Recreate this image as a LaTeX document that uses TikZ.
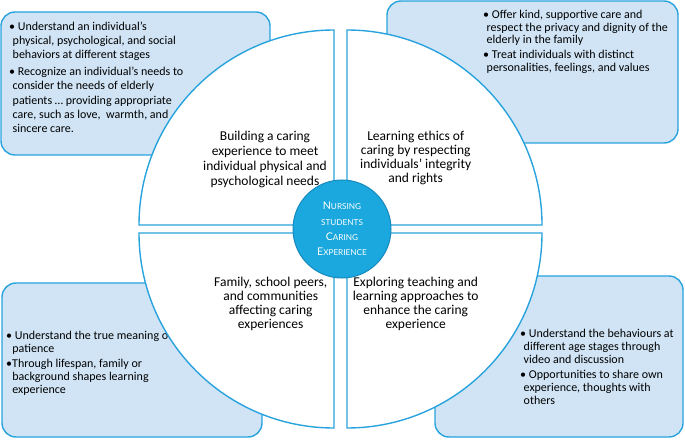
\documentclass[tikz,border=0pt]{standalone}
\usepackage{fontspec}
\setmainfont{Carlito}
\newfontfamily\hubfont{Lato}
\usetikzlibrary{positioning}

\definecolor{ringblue}{RGB}{41,163,221}
\definecolor{notefill}{RGB}{208,228,245}
\definecolor{hubfill}{RGB}{27,168,222}
\definecolor{hubdraw}{RGB}{22,138,190}

% fake small caps for the hub
\newcommand{\smcap}[2]{#1{\fontsize{8.2}{9}\selectfont #2}}
\newcommand{\cont}{\hspace*{3.5pt}}

\begin{document}
\begin{tikzpicture}[
  x=1pt, y=1pt,
  panel/.style={draw=ringblue, fill=notefill, line width=1.4pt, rounded corners=14pt},
  quarter/.style={draw=ringblue, fill=white, line width=1.4pt},
  note/.style={anchor=north west, inner sep=0pt, align=left, font=\fontsize{12}{14.3}\selectfont},
  theme/.style={inner sep=0pt, align=center, font=\fontsize{13.5}{15.3}\selectfont},
  hub/.style={circle, draw=hubdraw, fill=hubfill, line width=1pt, minimum size=98pt, inner sep=0pt,
    text=white, align=center, font=\hubfont\fontsize{10.6}{15.3}\selectfont}
]
\useasboundingbox (0,0) rectangle (685,-446);

% outer boxes
\draw[panel] (1,-12) rectangle (270,-155);
\draw[panel] (387,-1) rectangle (678,-143);
\draw[panel] (2,-283) rectangle (262,-437);
\draw[panel] (435,-276) rectangle (683,-437);

\node[note] (needs) at (9,-21.5) {\textbullet\ Understand an individual’s\\\cont physical, psychological, and social\\\cont behaviors at different stages\\[2.5pt]
  \textbullet\ Recognize an individual’s needs to\\\cont consider the needs of elderly\\\cont patients … providing appropriate\\\cont care, such as love,\ \ warmth, and\\\cont sincere care.};

\node[note, font=\fontsize{12}{12.7}\selectfont] (ethics) at (483,-10) {\textbullet\ Offer kind, supportive care and\\\cont respect the privacy and dignity of the\\\cont elderly in the family\\[2pt]
  \textbullet\ Treat individuals with distinct\\\cont personalities, feelings, and values};

\node[note, font=\fontsize{12}{13.3}\selectfont] (family) at (6,-331) {\textbullet\ Understand the true meaning of\\\cont\ patience\\[1pt]
  \textbullet Through lifespan, family or\\\cont\ background shapes learning\\\cont\ experience};

\node[note, font=\fontsize{12}{13}\selectfont] (teach) at (520,-329) {\textbullet\ Understand the behaviours at\\\cont different age stages through\\\cont video and discussion\\[2pt]
  \textbullet\ Opportunities to share own\\\cont experience, thoughts with\\\cont others};

% quarter circles
\draw[quarter] (334,-225) -- ++(0,195) arc[start angle=90, end angle=180, radius=195] -- cycle;
\draw[quarter] (347,-225) -- ++(195,0) arc[start angle=0, end angle=90, radius=195] -- cycle;
\draw[quarter] (334,-233) -- ++(-195,0) arc[start angle=180, end angle=270, radius=195] -- cycle;
\draw[quarter] (347,-233) -- ++(0,-195) arc[start angle=270, end angle=360, radius=195] -- cycle;

\node[theme] (build) at (265,-159.5) {Building a caring\\experience to meet\\individual physical and\\psychological needs};
\node[theme, font=\fontsize{13.5}{14}\selectfont] (learn) at (415.7,-157.5) {Learning ethics of\\caring by respecting\\individuals’ integrity\\and rights};
\node[theme, font=\fontsize{13.5}{14}\selectfont] (peers) at (270.7,-304) {Family, school peers,\\and communities\\affecting caring\\experiences};
\node[theme, font=\fontsize{13.5}{14}\selectfont] (explore) at (415.7,-304) {Exploring teaching and\\learning approaches to\\enhance the caring\\experience};

\node[hub] (core) at (342,-229) {\smcap{N}{URSING}\\\smcap{}{STUDENTS}\\\smcap{C}{ARING}\\\smcap{E}{XPERIENCE}};

\end{tikzpicture}
\end{document}
